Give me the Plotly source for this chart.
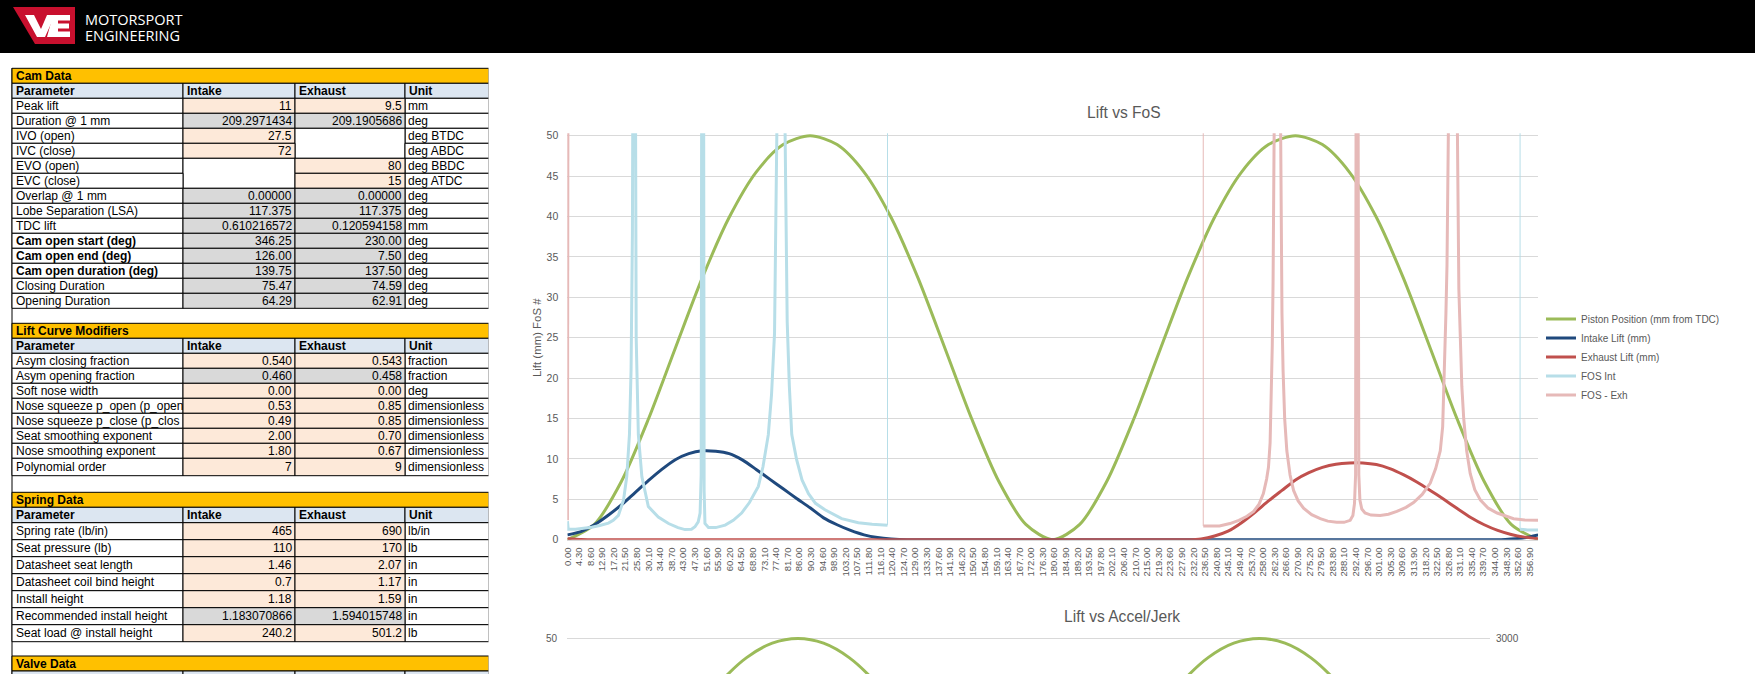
import plotly.graph_objects as go

W, H = 1755, 674


def fx(x):
    return x / W


def fy(y):
    return 1 - y / H


FONT = "Liberation Sans, Arial, sans-serif"
TXT = "#595959"

# ---------------- chart data (degrees vs value) ----------------
tick_deg = [round(i * 4.3, 2) for i in range(84)]
tick_text = [f"{v:.2f}" for v in tick_deg]

piston_deg = [0, 10, 20, 30, 40, 50, 60, 70, 80, 90, 100, 110, 120, 130, 140, 150, 160, 170, 180,
              190, 200, 210, 220, 230, 240, 250, 260, 270, 280, 290, 300, 310, 320, 330, 340, 350, 360]
piston_mm = [0, 1.9, 7.2, 14.9, 23.7, 32.4, 39.9, 45.5, 48.9, 50, 48.9, 45.5, 39.9, 32.4, 23.7, 14.9, 7.2, 1.9, 0,
             1.9, 7.2, 14.9, 23.7, 32.4, 39.9, 45.5, 48.9, 50, 48.9, 45.5, 39.9, 32.4, 23.7, 14.9, 7.2, 1.9, 0]

intake_deg = [0, 5, 10, 15, 20, 25, 30, 35, 40, 45, 50, 55, 60, 65, 70, 75, 80, 85, 90, 95, 100, 105, 110,
              115, 120, 126, 160, 200, 250, 300, 346.25, 350, 355, 360]
intake_mm = [0.6, 1.0, 1.85, 3.0, 4.3, 5.8, 7.3, 8.7, 9.9, 10.65, 11.0, 10.95, 10.65, 9.85, 8.7, 7.5, 6.3, 5.1,
             3.95, 2.7, 1.85, 1.15, 0.6, 0.27, 0.1, 0, 0, 0, 0, 0, 0, 0.08, 0.25, 0.6]

exhaust_deg = [0, 5, 7.5, 50, 100, 150, 200, 230, 235, 240, 245, 250, 255, 260, 265, 270, 275, 280, 285, 290,
               295, 300, 305, 310, 315, 320, 325, 330, 335, 340, 345, 350, 355, 360]
exhaust_mm = [0.12, 0.02, 0, 0, 0, 0, 0, 0, 0.1, 0.45, 1.05, 2.1, 3.4, 4.8, 6.1, 7.4, 8.3, 8.95, 9.35, 9.5,
              9.5, 9.3, 8.8, 8.05, 7.15, 6.1, 5.0, 3.85, 2.75, 1.85, 1.15, 0.65, 0.32, 0.12]

# Factor of safety, intake (values above 50 run off the chart)
fos_int_deg = [0, 0.3, 3, 6, 9, 12, 15.2, 17, 18.9, 20.8, 22.0, 23.0, 23.6, 24.1, 24.3, 25.2, 25.5, 26.3,
               27.6, 30.0, 33.7, 37.5, 41, 43.6, 46, 47.3, 48.5, 49.2, 49.6, 49.8, 50.5, 50.7, 51.0, 52.3,
               55, 58.5, 61.5, 64.6, 67.5, 70.8, 72.5, 74.5, 75.7, 76.8, 77.5, 78.0, 80.4, 81.0, 81.5,
               82.3, 83.2, 85.0, 87.0, 89.4, 92.0, 95.5, 101.7, 107.9, 113.0, 118.7, None,
               353.3, 356, 360]
fos_int_val = [2.3, 1.3, 1.3, 1.4, 1.55, 1.75, 2.05, 2.4, 3.0, 4.9, 7.8, 13, 21, 38, 60, 60, 25, 13,
               7.8, 4.1, 2.8, 2.0, 1.5, 1.25, 1.3, 1.6, 2.2, 3.3, 8, 60, 60, 6, 2.0, 1.5,
               1.5, 1.8, 2.4, 3.3, 4.6, 6.6, 9, 13, 18, 25.5, 38, 60, 60, 38, 27,
               19, 13, 9.9, 7.4, 5.7, 4.5, 3.7, 2.6, 2.1, 1.9, 1.8, None,
               1.3, 1.2, 1.2]
fos_int_edge_deg = [118.7, 118.7, None, 353.3, 353.3]
fos_int_edge_val = [1.8, 60, None, 60, 1.3]

# Factor of safety, exhaust
fos_exh_deg = [0.0, 0.2, None,
               235.8, 241.8, 245.7, 249, 252, 254.5, 256.5, 258.1, 259.3, 260, 260.6, 261, 261.4, 261.7,
               262, 262.3, 264.3, 264.6, 265, 265.4, 266, 266.8, 268, 269.3, 271, 273, 276, 279.2, 282,
               285.3, 288, 290.3, 291.3, 291.9, 292.3, 292.5, 293.2, 293.5, 293.9, 294.6, 295.8, 298,
               301.4, 304.5, 307.6, 311, 313.8, 317, 320, 322, 323.7, 324.6, 325.3, 325.8, 326.2, 326.7,
               327, 329.8, 330.2, 330.6, 331.1, 331.7, 332.4, 333.5, 334.8, 336.5, 338.6, 341.5, 344.8,
               348, 350.9, 355, 360]
fos_exh_val = [2.4, 60, None,
               1.7, 1.7, 2.0, 2.4, 2.9, 3.5, 4.4, 5.7, 7.5, 9, 12, 17, 24, 32,
               42, 60, 60, 40, 28, 21, 15, 11, 8, 6.1, 4.8, 3.9, 3.1, 2.6, 2.3,
               2.15, 2.15, 2.4, 3.0, 4.5, 8, 60, 60, 8, 4.9, 3.8, 3.3, 3.05,
               3.0, 3.15, 3.5, 4.0, 4.6, 5.6, 7.0, 8.8, 11, 14, 21, 28, 34, 46,
               60, 60, 38, 31, 25.5, 19, 15, 11, 8.2, 6.2, 4.9, 3.9, 3.3,
               2.9, 2.6, 2.45, 2.4]
fos_exh_edge_deg = [235.8, 235.8]
fos_exh_edge_val = [60, 1.7]

# ---------------- table data ----------------
col_x = [12, 183, 295, 405, 489]
PEACH, GREY, WHITE = "#FDE9D9", "#D9D9D9", "#FFFFFF"

cam_rows = [
    ("Peak lift", "11", "9.5", "mm", False, "in", "in"),
    ("Duration @ 1 mm", "209.2971434", "209.1905686", "deg", False, "calc", "calc"),
    ("IVO (open)", "27.5", "", "deg BTDC", False, "in", "merge"),
    ("IVC (close)", "72", None, "deg ABDC", False, "in", None),
    ("EVO (open)", "", "80", "deg BBDC", False, "merge", "in"),
    ("EVC (close)", None, "15", "deg ATDC", False, None, "in"),
    ("Overlap @ 1 mm", "0.00000", "0.00000", "deg", False, "calc", "calc"),
    ("Lobe Separation (LSA)", "117.375", "117.375", "deg", False, "calc", "calc"),
    ("TDC lift", "0.610216572", "0.120594158", "mm", False, "calc", "calc"),
    ("Cam open start (deg)", "346.25", "230.00", "deg", True, "calc", "calc"),
    ("Cam open end (deg)", "126.00", "7.50", "deg", True, "calc", "calc"),
    ("Cam open duration (deg)", "139.75", "137.50", "deg", True, "calc", "calc"),
    ("Closing Duration", "75.47", "74.59", "deg", False, "calc", "calc"),
    ("Opening Duration", "64.29", "62.91", "deg", False, "calc", "calc"),
]
lcm_rows = [
    ("Asym closing fraction", "0.540", "0.543", "fraction", False, "in", "in"),
    ("Asym opening fraction", "0.460", "0.458", "fraction", False, "calc", "calc"),
    ("Soft nose width", "0.00", "0.00", "deg", False, "in", "in"),
    ("Nose squeeze p_open (p_open", "0.53", "0.85", "dimensionless", False, "in", "in"),
    ("Nose squeeze p_close (p_clos", "0.49", "0.85", "dimensionless", False, "in", "in"),
    ("Seat smoothing exponent", "2.00", "0.70", "dimensionless", False, "in", "in"),
    ("Nose smoothing exponent", "1.80", "0.67", "dimensionless", False, "in", "in"),
    ("Polynomial order", "7", "9", "dimensionless", False, "in", "in"),
]
spring_rows = [
    ("Spring rate (lb/in)", "465", "690", "lb/in", False, "in", "in"),
    ("Seat pressure (lb)", "110", "170", "lb", False, "in", "in"),
    ("Datasheet seat length", "1.46", "2.07", "in", False, "in", "in"),
    ("Datasheet coil bind height", "0.7", "1.17", "in", False, "in", "in"),
    ("Install height", "1.18", "1.59", "in", False, "in", "in"),
    ("Recommended install height", "1.183070866", "1.594015748", "in", False, "calc", "calc"),
    ("Seat load @ install height", "240.2", "501.2", "lb", False, "in", "in"),
]
header_labels = ["Parameter", "Intake", "Exhaust", "Unit"]

# (title, top y, header row height, data row heights, rows, header text shown)
sections = [
    ("Cam Data", 68.3, 15, [15] * 14, cam_rows, True),
    ("Lift Curve Modifiers", 323.3, 15, [15] * 7 + [17.4], lcm_rows, True),
    ("Spring Data", 492.3, 15.4, [17] * 7, spring_rows, True),
    ("Valve Data", 656, 15, [15], [], False),
]

# ---------------- figure ----------------
fig = go.Figure()
fig.add_trace(go.Scatter(x=piston_deg, y=piston_mm, name="Piston Position (mm from TDC)", mode="lines",
                         line=dict(color="#9BBB59", width=3, shape="spline", smoothing=0.8),
                         xaxis="x", yaxis="y", hoverinfo="skip"))
fig.add_trace(go.Scatter(x=intake_deg, y=intake_mm, name="Intake Lift (mm)", mode="lines",
                         line=dict(color="#1F497D", width=3, shape="spline", smoothing=0.6),
                         xaxis="x", yaxis="y", hoverinfo="skip"))
fig.add_trace(go.Scatter(x=exhaust_deg, y=exhaust_mm, name="Exhaust Lift (mm)", mode="lines",
                         line=dict(color="#C0504D", width=3, shape="spline", smoothing=0.6),
                         xaxis="x", yaxis="y", hoverinfo="skip"))
fig.add_trace(go.Scatter(x=fos_int_deg, y=fos_int_val, name="FOS Int", mode="lines",
                         line=dict(color="#B7DEE8", width=3), legendgroup="fi",
                         xaxis="x", yaxis="y", hoverinfo="skip"))
fig.add_trace(go.Scatter(x=fos_int_edge_deg, y=fos_int_edge_val, name="FOS Int", mode="lines",
                         line=dict(color="#B7DEE8", width=1), legendgroup="fi", showlegend=False,
                         xaxis="x", yaxis="y", hoverinfo="skip"))
fig.add_trace(go.Scatter(x=fos_exh_deg, y=fos_exh_val, name="FOS - Exh", mode="lines",
                         line=dict(color="#E6B9B8", width=3), legendgroup="fe",
                         xaxis="x", yaxis="y", hoverinfo="skip"))
fig.add_trace(go.Scatter(x=fos_exh_edge_deg, y=fos_exh_edge_val, name="FOS - Exh", mode="lines",
                         line=dict(color="#E6B9B8", width=1), legendgroup="fe", showlegend=False,
                         xaxis="x", yaxis="y", hoverinfo="skip"))
# lower chart (Lift vs Accel/Jerk): only its top strip is on screen
fig.add_trace(go.Scatter(x=piston_deg, y=piston_mm, name="Piston Position (mm from TDC)", mode="lines",
                         line=dict(color="#9BBB59", width=3, shape="spline", smoothing=0.8),
                         xaxis="x2", yaxis="y2", showlegend=False, hoverinfo="skip"))
fig.add_trace(go.Scatter(x=[], y=[], xaxis="x2", yaxis="y3", showlegend=False, hoverinfo="skip"))

shapes = []
ann = []


def rect(x0, y0, x1, y1, fill, line=True, lw=1, lc="#000000"):
    shapes.append(dict(type="rect", xref="paper", yref="paper", x0=fx(x0), x1=fx(x1), y0=fy(y1), y1=fy(y0),
                       fillcolor=fill, line=dict(width=lw if line else 0, color=lc), layer="below"))


def text(x, y, s, anchor="left", bold=False, size=12, color="#000000", family=FONT, angle=0):
    ann.append(dict(xref="paper", yref="paper", x=fx(x), y=fy(y), text=f"<b>{s}</b>" if bold else s,
                    showarrow=False, xanchor=anchor, yanchor="middle", textangle=angle,
                    font=dict(family=family, size=size, color=color)))


# header bar with logo
rect(0, 0, W, 53, "#000000", line=False)
shapes.append(dict(type="path", xref="paper", yref="paper", fillcolor="#C8102E", line=dict(width=0),
                   path=f"M {fx(13)},{fy(7)} L {fx(75)},{fy(7)} L {fx(75)},{fy(44)} L {fx(35)},{fy(44)} Z"))
shapes.append(dict(type="path", xref="paper", yref="paper", fillcolor="#FFFFFF", line=dict(width=0),
                   path=(f"M {fx(25)},{fy(15)} L {fx(34)},{fy(15)} L {fx(41)},{fy(29)} L {fx(47)},{fy(15)} "
                         f"L {fx(55)},{fy(15)} L {fx(45)},{fy(37)} L {fx(37)},{fy(37)} Z")))
shapes.append(dict(type="path", xref="paper", yref="paper", fillcolor="#FFFFFF", line=dict(width=0),
                   path=(f"M {fx(53)},{fy(15)} L {fx(70)},{fy(15)} L {fx(70)},{fy(20.5)} L {fx(58)},{fy(20.5)} "
                         f"L {fx(58)},{fy(23.5)} L {fx(69)},{fy(23.5)} L {fx(69)},{fy(28.5)} L {fx(58)},{fy(28.5)} "
                         f"L {fx(58)},{fy(31.5)} L {fx(70)},{fy(31.5)} L {fx(70)},{fy(37)} L {fx(47)},{fy(37)} Z")))
text(83, 19.5, "MOTORSPORT", size=14.5, color="#FFFFFF", family="Open Sans, sans-serif")
text(83, 36, "ENGINEERING", size=14.5, color="#FFFFFF", family="Open Sans, sans-serif")

# parameter tables
shapes.append(dict(type="line", xref="paper", yref="paper", x0=fx(12), x1=fx(12), y0=fy(68), y1=0,
                   line=dict(color="#000000", width=1), layer="below"))
fill_map = {"in": PEACH, "calc": GREY, "merge": WHITE}
for title, top, hh, heights, rows, show_hdr in sections:
    rect(col_x[0], top, col_x[-1], top + 15, "#FFC000")
    text(col_x[0] + 1.5, top + 7.5, title, bold=True)
    y0 = top + 15
    for i, h in enumerate(header_labels):
        rect(col_x[i], y0, col_x[i + 1], y0 + hh, "#DCE6F1")
        if show_hdr:
            text(col_x[i] + 1.5, y0 + hh / 2, h, bold=True)
    y = y0 + hh
    for (label, vi, ve, unit, bold, fi, fe), rh in zip(rows, heights):
        rect(col_x[0], y, col_x[1], y + rh, WHITE)
        rect(col_x[3], y, col_x[4], y + rh, WHITE)
        for ci, (v, f) in enumerate([(vi, fi), (ve, fe)]):
            if f is None:
                continue
            span = rh * 2 if f == "merge" else rh
            rect(col_x[1 + ci], y, col_x[2 + ci], y + span, fill_map[f])
            if v:
                text(col_x[2 + ci] - 0.7, y + rh / 2, v, anchor="right")
        text(col_x[0] + 1.5, y + rh / 2, label, bold=bold)
        text(col_x[3] + 1, y + rh / 2, unit)
        y += rh
# the sheet is clipped on the right of the Unit column
rect(488.5, 60, 505, H + 5, WHITE, line=False)

# chart titles / axis title
text(1124, 112.7, "Lift vs FoS", anchor="center", size=15.6, color=TXT)
text(1122, 616, "Lift vs Accel/Jerk", anchor="center", size=15.6, color=TXT)
text(537, 338, "Lift (mm) FoS #", anchor="center", size=11.4, color=TXT, angle=-90)

# axis geometry (pixels)
TOP_Y0, TOP_Y50 = 539.7, 135.7
top_ppu = (TOP_Y0 - TOP_Y50) / 50
BOT_Y50, BOT_PPU = 638.5, 4.25
PADPX = 2.5

fig.update_layout(
    width=W, height=H, template="none", autosize=False,
    margin=dict(l=0, r=0, t=0, b=0, pad=0),
    paper_bgcolor="#FFFFFF", plot_bgcolor="rgba(0,0,0,0)",
    font=dict(family=FONT, color=TXT),
    showlegend=True,
    legend=dict(x=fx(1541), y=fy(304.5), xanchor="left", yanchor="top", bgcolor="rgba(0,0,0,0)",
                font=dict(size=10, color=TXT, family=FONT), borderwidth=0, tracegroupgap=0),
    xaxis=dict(domain=[fx(567.3), fx(1538)], range=[-0.05, 359.95], anchor="y",
               tickmode="array", tickvals=tick_deg, ticktext=tick_text, tickangle=-90,
               tickfont=dict(size=9.5, color=TXT), ticks="", showgrid=False, zeroline=False,
               showline=True, linecolor="#D9D9D9", linewidth=1, ticklabelstandoff=3,
               automargin=False, fixedrange=True),
    yaxis=dict(domain=[fy(TOP_Y0), fy(TOP_Y50 - PADPX)], range=[0, 50 + PADPX / top_ppu], anchor="x",
               tickmode="array", tickvals=[0, 5, 10, 15, 20, 25, 30, 35, 40, 45, 50],
               tickfont=dict(size=10.5, color=TXT), ticks="", showgrid=True, gridcolor="#D9D9D9",
               gridwidth=1, zeroline=False, showline=False, ticklabelstandoff=8,
               automargin=False, fixedrange=True),
    xaxis2=dict(domain=[fx(567), fx(1490)], range=[-0.05, 359.95], anchor="y2", showticklabels=False,
                ticks="", showgrid=False, zeroline=False, showline=False, automargin=False, fixedrange=True),
    yaxis2=dict(domain=[0, fy(BOT_Y50 - PADPX)],
                range=[50 - (H - BOT_Y50) / BOT_PPU, 50 + PADPX / BOT_PPU], anchor="x2",
                tickmode="array", tickvals=[50], tickfont=dict(size=10, color=TXT), ticks="",
                showgrid=True, gridcolor="#D9D9D9", zeroline=False, showline=False,
                ticklabelstandoff=9, automargin=False, fixedrange=True),
    yaxis3=dict(overlaying="y2", side="right", anchor="x2",
                range=[3000 - (H - BOT_Y50) * 10, 3000 + PADPX * 10], tickmode="array",
                tickvals=[3000], tickfont=dict(size=10, color=TXT), ticks="", showgrid=False,
                zeroline=False, showline=False, ticklabelstandoff=5, automargin=False, fixedrange=True),
    shapes=shapes,
    annotations=ann,
)

fig.write_html("out.html", config={"displayModeBar": False},
               post_script="document.body.style.margin='0px';document.body.style.overflow='hidden';")
